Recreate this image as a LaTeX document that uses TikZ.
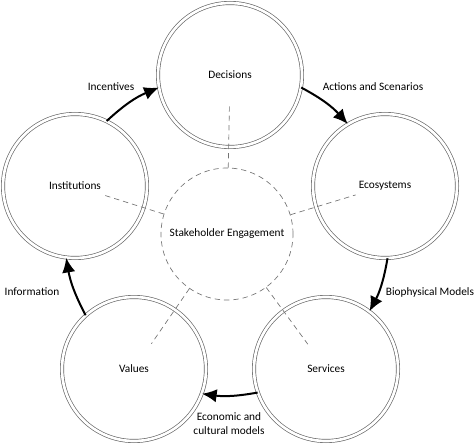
\documentclass[tikz,border=0pt]{standalone}
\usepackage{fontspec}
\setmainfont{Carlito}
\usetikzlibrary{arrows.meta,calc}

\tikzset{
  stage/.style={circle, draw=black!60, double=white, double distance=2pt,
    line width=0.5pt, minimum size=108pt, inner sep=0pt},
  hub/.style={circle, draw=black!55, dash pattern=on 4pt off 3pt,
    line width=0.5pt, minimum size=99pt, inner sep=0pt},
  flow/.style={-{Latex[length=11pt,width=10pt]}, line width=1.5pt},
  spoke/.style={draw=black!55, dash pattern=on 4pt off 3pt, line width=0.5pt},
  lbl/.style={inner sep=1pt}
}

\begin{document}
\begin{tikzpicture}[x=0.75pt, y=-0.75pt, font=\fontsize{8.5}{10.5}\selectfont]

    \useasboundingbox (0,0) rectangle (474,445);

    % centro
    \node[hub] (hub) at (227,234) {Stakeholder Engagement};

    % etapas del ciclo
    \node[stage] (dec)  at (230,75)  {Decisions};
    \node[stage] (eco)  at (385,186) {Ecosystems};
    \node[stage] (serv) at (326,369) {Services};
    \node[stage] (val)  at (134,369) {Values};
    \node[stage] (inst) at (75,186)  {Institutions};

    % rayos
    \foreach \n in {dec,eco,serv,val,inst}
        \draw[spoke] (hub) -- ($(\n)!23pt!(hub)$);

    % flechas
    \draw[flow] (inst.64)  to[bend left=10] (dec.190);
    \draw[flow] (dec.-10)  to[bend left=10] (eco.121);
    \draw[flow] (eco.-88)  to[bend left=9]  (serv.53);
    \draw[flow] (serv.199) to[bend left=9]  (val.-20);
    \draw[flow] (val.132)  to[bend left=9]  (inst.-97);

    % leyendas
    \node[lbl] (incent) at (111,87)  {Incentives};
    \node[lbl] (actsc)  at (373,87)  {Actions and Scenarios};
    \node[lbl] (biophy) at (430,292) {Biophysical Models};
    \node[lbl, align=center] (econ) at (229,424) {Economic and\\cultural models};
    \node[lbl] (info)   at (32,292)  {Information};

\end{tikzpicture}
\end{document}
